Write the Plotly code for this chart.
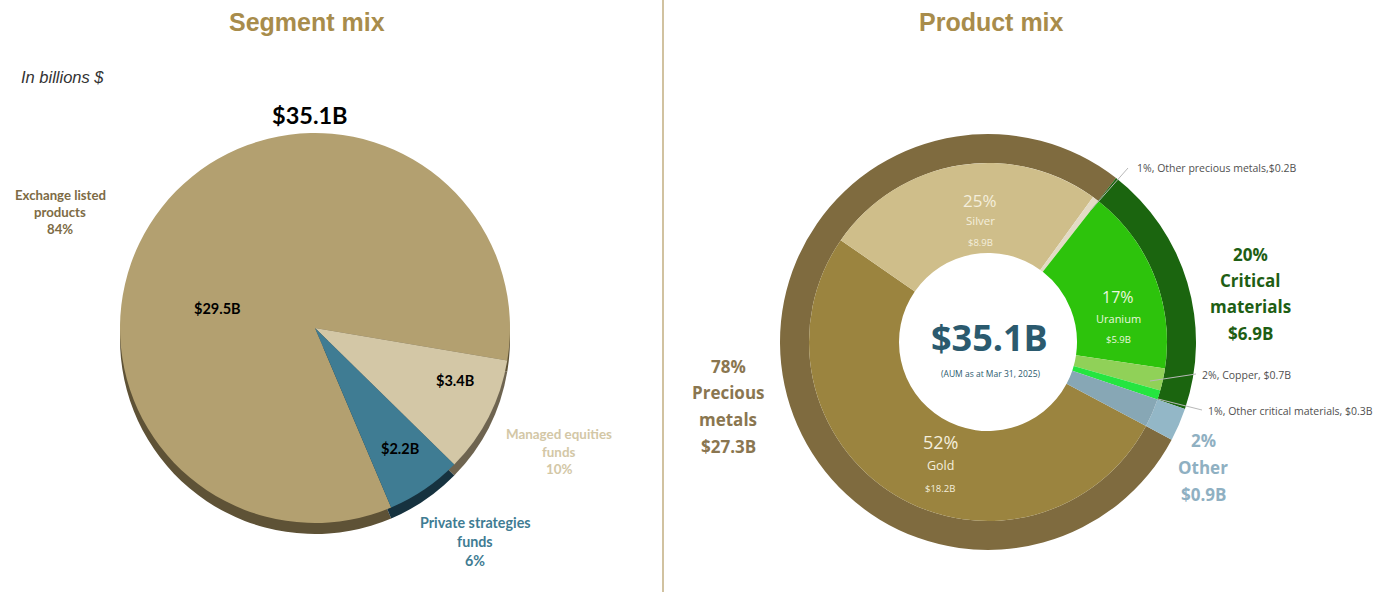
import plotly.graph_objects as go

W, H = 1384, 592

# ---------------- data ----------------
seg_names = ["Exchange listed products", "Managed equities funds", "Private strategies funds"]
seg_values = [29.5, 3.4, 2.2]
seg_pcts = [84, 10, 6]
seg_total = 35.1

prod_names = ["Gold", "Silver", "Other precious metals", "Uranium", "Copper",
              "Other critical materials", "Other"]
prod_values = [18.2, 8.9, 0.2, 5.9, 0.7, 0.3, 0.9]
prod_pcts = [52, 25, 1, 17, 2, 1, 2]

group_names = ["Precious metals", "Critical materials", "Other"]
group_values = [27.3, 6.9, 0.9]
group_pcts = [78, 20, 2]
prod_total = 35.1

# ---------------- styles ----------------
seg_colors = ["#b3a070", "#d3c7a6", "#3f7c93"]
seg_side_colors = ["#5e5236", "#6e6450", "#16323f"]
prod_colors = ["#9b843f", "#cfbe8a", "#e3dbc5", "#2dc30c", "#90d158", "#25e540", "#87a7b5"]
group_colors = ["#7f6b3f", "#1b650f", "#93b7c7"]


def px(x):
    return x / W


def py(y):
    return 1 - y / H


def dom(cx, cy, r, dy=0):
    return dict(x=[px(cx - r), px(cx + r)], y=[py(cy + r + dy), py(cy - r + dy)])


fig = go.Figure()

# ---- left: pie with a simple 3D side ----
L_CX, L_CY, L_R = 315, 328, 195
fig.add_trace(go.Pie(values=seg_values, labels=seg_names, sort=False, direction="clockwise",
                     rotation=157, textinfo="none", hoverinfo="skip", showlegend=False,
                     marker=dict(colors=seg_side_colors, line=dict(width=0)),
                     domain=dom(L_CX, L_CY, L_R, dy=11)))
fig.add_trace(go.Pie(values=seg_values, labels=seg_names, sort=False, direction="clockwise",
                     rotation=157, textinfo="none", hoverinfo="label+value", showlegend=False,
                     marker=dict(colors=seg_colors, line=dict(width=0)),
                     domain=dom(L_CX, L_CY, L_R)))

# ---- right: two-ring donut ----
R_CX, R_CY = 988, 342
R_OUT, R_MID, R_HOLE = 208, 179, 89
fig.add_trace(go.Pie(values=group_values, labels=group_names, sort=False, direction="clockwise",
                     rotation=118, hole=R_MID / R_OUT, textinfo="none", hoverinfo="label+value",
                     showlegend=False, marker=dict(colors=group_colors, line=dict(width=0)),
                     domain=dom(R_CX, R_CY, R_OUT)))
fig.add_trace(go.Pie(values=prod_values, labels=prod_names, sort=False, direction="clockwise",
                     rotation=118, hole=R_HOLE / R_MID, textinfo="none", hoverinfo="label+value",
                     showlegend=False, marker=dict(colors=prod_colors, line=dict(width=0)),
                     domain=dom(R_CX, R_CY, R_MID)))

ann = []


def text(x, y, s, size, color, family="Lato", bold=False, italic=False, anchor="center"):
    if bold:
        s = "<b>" + s + "</b>"
    if italic:
        s = "<i>" + s + "</i>"
    ann.append(dict(x=px(x), y=py(y), xref="paper", yref="paper", text=s, showarrow=False,
                    xanchor=anchor, yanchor="middle",
                    font=dict(size=size, color=color, family=family)))


def lines(x, y0, step, items, color, family, bold=True):
    for i, (s, size) in enumerate(items):
        text(x, y0 + i * step, s, size, color, family, bold=bold)


ARIAL = "Liberation Sans, Arial"
CAL = "Lato"
OS = "Open Sans"

# titles
text(307, 22, "Segment mix", 25, "#a88c4b", ARIAL, bold=True)
text(991, 22, "Product mix", 25, "#a88c4b", ARIAL, bold=True)
text(62, 77, "In billions $", 16.5, "#333333", ARIAL, italic=True)
text(310, 115, f"${seg_total}B", 23.5, "#000000", CAL, bold=True)

# left inside values
for (x, y), v in zip([(217, 308), (455, 381), (400, 448)], seg_values):
    text(x, y, f"${v}B", 14.5, "#000000", CAL, bold=True)

# left outside labels
lines(60, 195, 17, [("Exchange listed", 13.2), ("products", 13.2), (f"{seg_pcts[0]}%", 13.2)],
      "#7d6b45", CAL)
lines(559, 434, 17.5, [("Managed equities", 13.4), ("funds", 13.4), (f"{seg_pcts[1]}%", 13.4)],
      "#d3c7a6", CAL)
lines(475, 522, 19, [("Private strategies", 14.3), ("funds", 14.3), (f"{seg_pcts[2]}%", 14.3)],
      "#3f7c93", CAL)

# right centre
text(R_CX + 1, 337, f"${prod_total}B", 36, "#2b5a6e", OS, bold=True)
text(R_CX + 2, 373, "(AUM as at Mar 31, 2025)", 8.5, "#2b5a6e", OS)

# inner ring labels
IN_C = "#f4eedc"
lines(980, 200, 21, [(f"{prod_pcts[1]}%", 17), (prod_names[1], 11.5), (f"${prod_values[1]}B", 9.5)],
      IN_C, OS, bold=False)
lines(940, 442, 23, [(f"{prod_pcts[0]}%", 18), (prod_names[0], 12.5), (f"${prod_values[0]}B", 9.5)],
      IN_C, OS, bold=False)
lines(1118, 297, 21, [(f"{prod_pcts[3]}%", 16), (prod_names[3], 11), (f"${prod_values[3]}B", 9.5)],
      "#e9f7df", OS, bold=False)

# outer group labels
lines(1250, 254, 26.5, [(f"{group_pcts[1]}%", 17), ("Critical", 17), ("materials", 17),
                        (f"${group_values[1]}B", 17)], "#1e5e14", OS)
lines(728, 366, 26.7, [(f"{group_pcts[0]}%", 17), ("Precious", 17), ("metals", 17),
                       (f"${group_values[0]}B", 17)], "#8a7650", OS)
lines(1203, 440, 27, [(f"{group_pcts[2]}%", 17), (group_names[2], 17),
                      (f"${group_values[2]}B", 17)], "#8fb0c2", OS)

# callouts
CALL = "#505050"
text(1135, 168, f"{prod_pcts[2]}%, {prod_names[2]},${prod_values[2]}B", 10.5, CALL, OS, anchor="left")
text(1200, 375, f"{prod_pcts[4]}%, {prod_names[4]}, ${prod_values[4]}B", 10.5, CALL, OS, anchor="left")
text(1206, 411, f"{prod_pcts[5]}%, {prod_names[5]}, ${prod_values[5]}B", 10.5, CALL, OS, anchor="left")

shapes = [
    dict(type="line", xref="paper", yref="paper", x0=px(663), x1=px(663), y0=0, y1=1,
         line=dict(color="#c2ae80", width=1.5)),
    dict(type="line", xref="paper", yref="paper", x0=px(1090), y0=py(211), x1=px(1128), y1=py(168),
         line=dict(color="#b8b8b8", width=1)),
    dict(type="line", xref="paper", yref="paper", x0=px(1150), y0=py(381), x1=px(1196), y1=py(374),
         line=dict(color="#b8b8b8", width=1)),
    dict(type="line", xref="paper", yref="paper", x0=px(1158), y0=py(399), x1=px(1202), y1=py(410),
         line=dict(color="#b8b8b8", width=1)),
]

fig.update_layout(width=W, height=H, margin=dict(l=0, r=0, t=0, b=0),
                  paper_bgcolor="white", plot_bgcolor="white",
                  annotations=ann, shapes=shapes)

fig.write_html("out.html")
